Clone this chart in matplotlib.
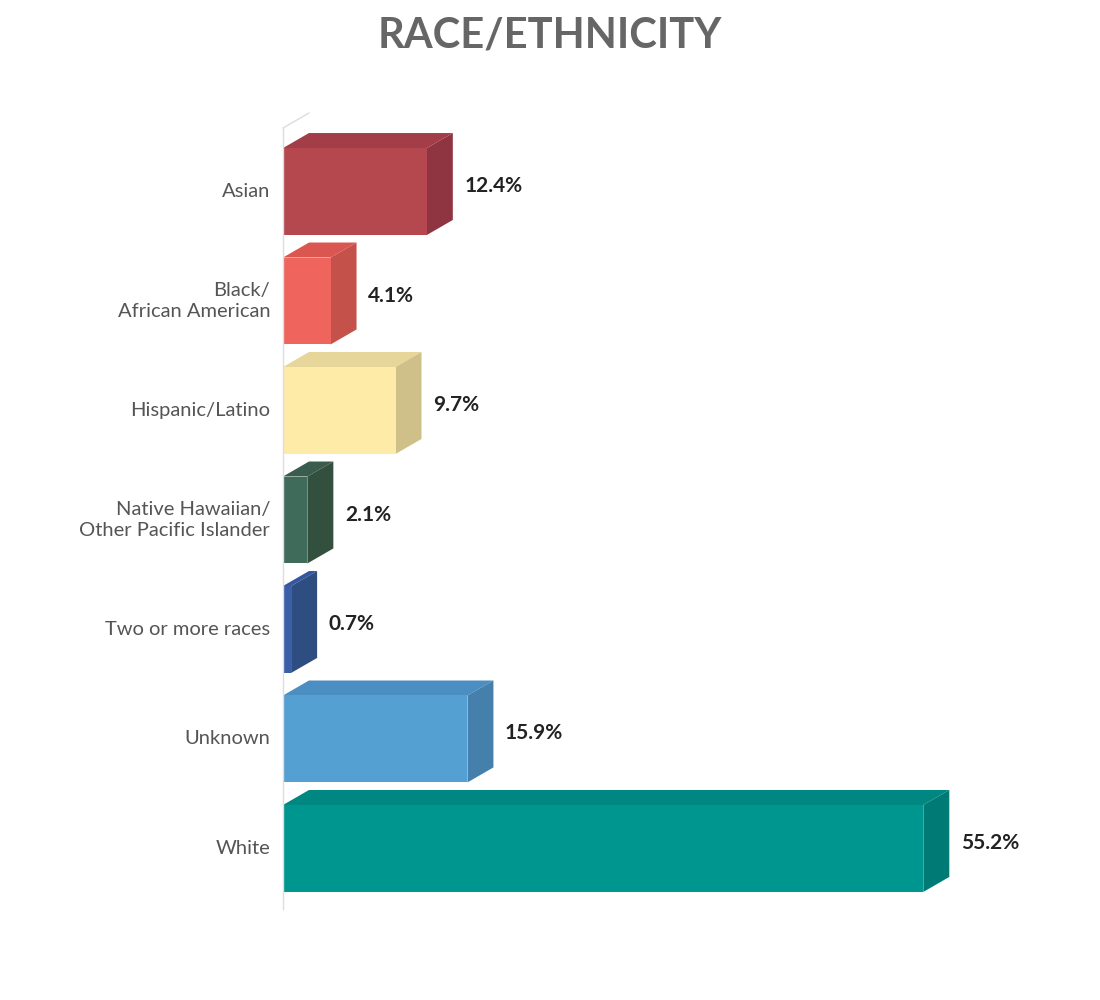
import matplotlib
matplotlib.use("Agg")
import matplotlib.pyplot as plt
from matplotlib.patches import Polygon

categories = ["Asian", "Black/\nAfrican American", "Hispanic/Latino",
              "Native Hawaiian/\nOther Pacific Islander", "Two or more races",
              "Unknown", "White"]
values = [12.4, 4.1, 9.7, 2.1, 0.7, 15.9, 55.2]
labels = ["12.4%", "4.1%", "9.7%", "2.1%", "0.7%", "15.9%", "55.2%"]
front = ["#B5474F", "#F0645E", "#FEEBA8", "#3F6B5A", "#3A5EA8", "#55A0D3", "#009690"]
top = ["#A33E48", "#DB5650", "#E6D699", "#3A5C4C", "#3556A0", "#4A8EC2", "#008781"]
side = ["#8F3441", "#C5514B", "#CFC08A", "#33503F", "#2E4D80", "#4580AC", "#007A74"]

plt.rcParams['font.family'] = ['Lato', 'DejaVu Sans']
fig = plt.figure(figsize=(11, 10), dpi=100)
ax = fig.add_axes([0, 0, 1, 1])
ax.set_xlim(-283/11.6, 817/11.6)
ax.set_ylim(7.384, -1.749)
ax.axis("off")

h = 0.397
dx, dy = 2.24, -0.137
ax.plot([0, 0], [-0.58, 6.55], color="#dddddd", lw=1)
ax.plot([0, dx], [-0.58, -0.58 + dy], color="#dddddd", lw=1)
for i, v in enumerate(values):
    y0, y1 = i - h, i + h
    ax.add_patch(Polygon([(0, y0), (dx, y0 + dy), (v + dx, y0 + dy), (v, y0)], closed=True, fc=top[i], ec="none"))
    ax.add_patch(Polygon([(v, y0), (v + dx, y0 + dy), (v + dx, y1 + dy), (v, y1)], closed=True, fc=side[i], ec="none"))
    ax.add_patch(Polygon([(0, y0), (v, y0), (v, y1), (0, y1)], closed=True, fc=front[i], ec="none"))
    ax.text(-1.1, i, categories[i], ha="right", va="center", fontsize=14.5, color="#555555", linespacing=1.3)
    ax.text(v + dx + 1.0, i - 0.05, labels[i], ha="left", va="center", fontsize=15, fontweight="bold", color="#222222")

fig.text(0.5, 0.965, "RACE/ETHNICITY", ha="center", va="center", fontsize=30, fontweight="bold", color="#666666")
fig.savefig("out.png", dpi=100, facecolor="white")
